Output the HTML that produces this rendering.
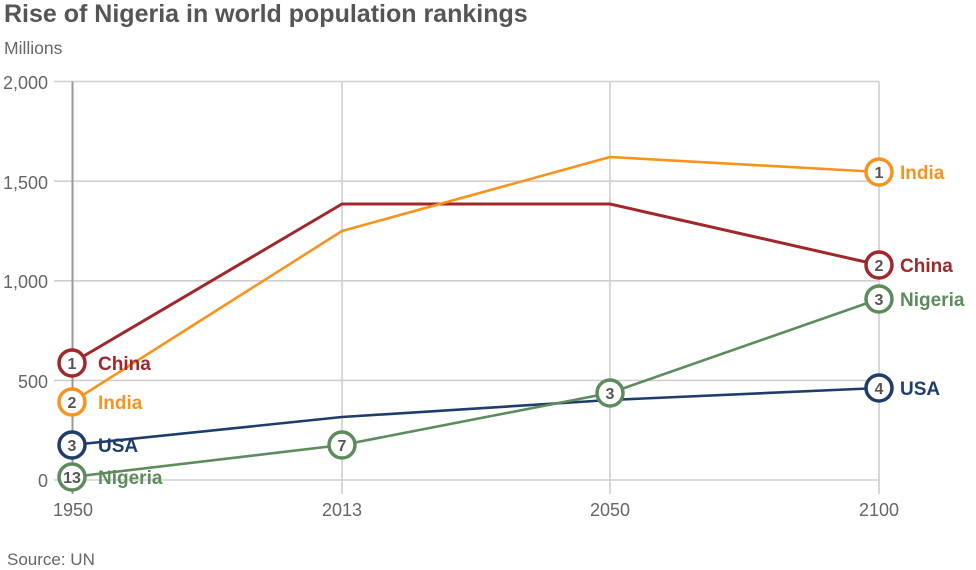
<!DOCTYPE html>
<html><head><meta charset="utf-8"><style>
html,body{margin:0;padding:0;background:#fff;}
svg{display:block;}
</style></head><body>
<svg width="976" height="570" viewBox="0 0 976 570" xmlns="http://www.w3.org/2000/svg" font-family="Liberation Sans, Arial, sans-serif">
<rect width="976" height="570" fill="#fff"/>
<text x="4" y="22" font-size="25" font-weight="bold" fill="#555">Rise of Nigeria in world population rankings</text>
<text x="4" y="54" font-size="17.5" fill="#666">Millions</text>
<g stroke="#cfcfcf" stroke-width="1.6" fill="none">
<line x1="54" y1="81.5" x2="879" y2="81.5"/>
<line x1="54" y1="181.2" x2="879" y2="181.2"/>
<line x1="54" y1="280.8" x2="879" y2="280.8"/>
<line x1="54" y1="380.4" x2="879" y2="380.4"/>
<line x1="54" y1="480" x2="879" y2="480"/>
<line x1="342" y1="81.5" x2="342" y2="494"/>
<line x1="610" y1="81.5" x2="610" y2="494"/>
<line x1="879" y1="81.5" x2="879" y2="494"/>
</g>
<line x1="72.5" y1="81.5" x2="72.5" y2="494" stroke="#999" stroke-width="2"/>
<g font-size="18" fill="#666" text-anchor="end">
<text x="48" y="89">2,000</text>
<text x="48" y="189">1,500</text>
<text x="48" y="288">1,000</text>
<text x="48" y="388">500</text>
<text x="48" y="487">0</text>
</g>
<g font-size="18" fill="#666" text-anchor="middle">
<text x="73" y="516">1950</text>
<text x="342" y="516">2013</text>
<text x="610" y="516">2050</text>
<text x="879" y="516">2100</text>
</g>
<text x="7" y="565" font-size="17" fill="#666">Source: UN</text>
<g fill="none" stroke-linejoin="round">
<polyline points="72,363 342,204 610,204 879,265" stroke="#a0282b" stroke-width="3"/>
<polyline points="72,402 342,231 610,157 879,172" stroke="#f7931e" stroke-width="2.6"/>
<polyline points="72,445 342,417 610,400 879,388" stroke="#1e3d6b" stroke-width="2.6"/>
<polyline points="72,477 342,445 610,393 879,299" stroke="#5d8b5d" stroke-width="2.6"/>
</g>
<g stroke-width="3.5" fill="#fff">
<circle cx="72" cy="363" r="13" stroke="#a0282b"/>
<circle cx="72" cy="402" r="13" stroke="#f7931e"/>
<circle cx="72" cy="445" r="13" stroke="#1e3d6b"/>
<circle cx="72" cy="477" r="13" stroke="#5d8b5d"/>
<circle cx="342" cy="445" r="13" stroke="#5d8b5d"/>
<circle cx="610" cy="393" r="13" stroke="#5d8b5d"/>
<circle cx="879" cy="172" r="13" stroke="#f7931e"/>
<circle cx="879" cy="265" r="13" stroke="#a0282b"/>
<circle cx="879" cy="299" r="13" stroke="#5d8b5d"/>
<circle cx="879" cy="388" r="13" stroke="#1e3d6b"/>
</g>
<g font-size="16" font-weight="bold" fill="#555" text-anchor="middle">
<text x="72" y="369">1</text>
<text x="72" y="408">2</text>
<text x="72" y="451">3</text>
<text x="72" y="483">13</text>
<text x="342" y="451">7</text>
<text x="610" y="399">3</text>
<text x="879" y="178">1</text>
<text x="879" y="271">2</text>
<text x="879" y="305">3</text>
<text x="879" y="394">4</text>
</g>
<g font-size="19" font-weight="bold">
<text x="98" y="370" fill="#a0282b">China</text>
<text x="98" y="409" fill="#f7931e">India</text>
<text x="98" y="452" fill="#1e3d6b">USA</text>
<text x="98" y="484" fill="#5d8b5d">Nigeria</text>
<text x="900" y="179" fill="#f7931e">India</text>
<text x="900" y="272" fill="#a0282b">China</text>
<text x="900" y="306" fill="#5d8b5d">Nigeria</text>
<text x="900" y="395" fill="#1e3d6b">USA</text>
</g>
</svg>
</body></html>
